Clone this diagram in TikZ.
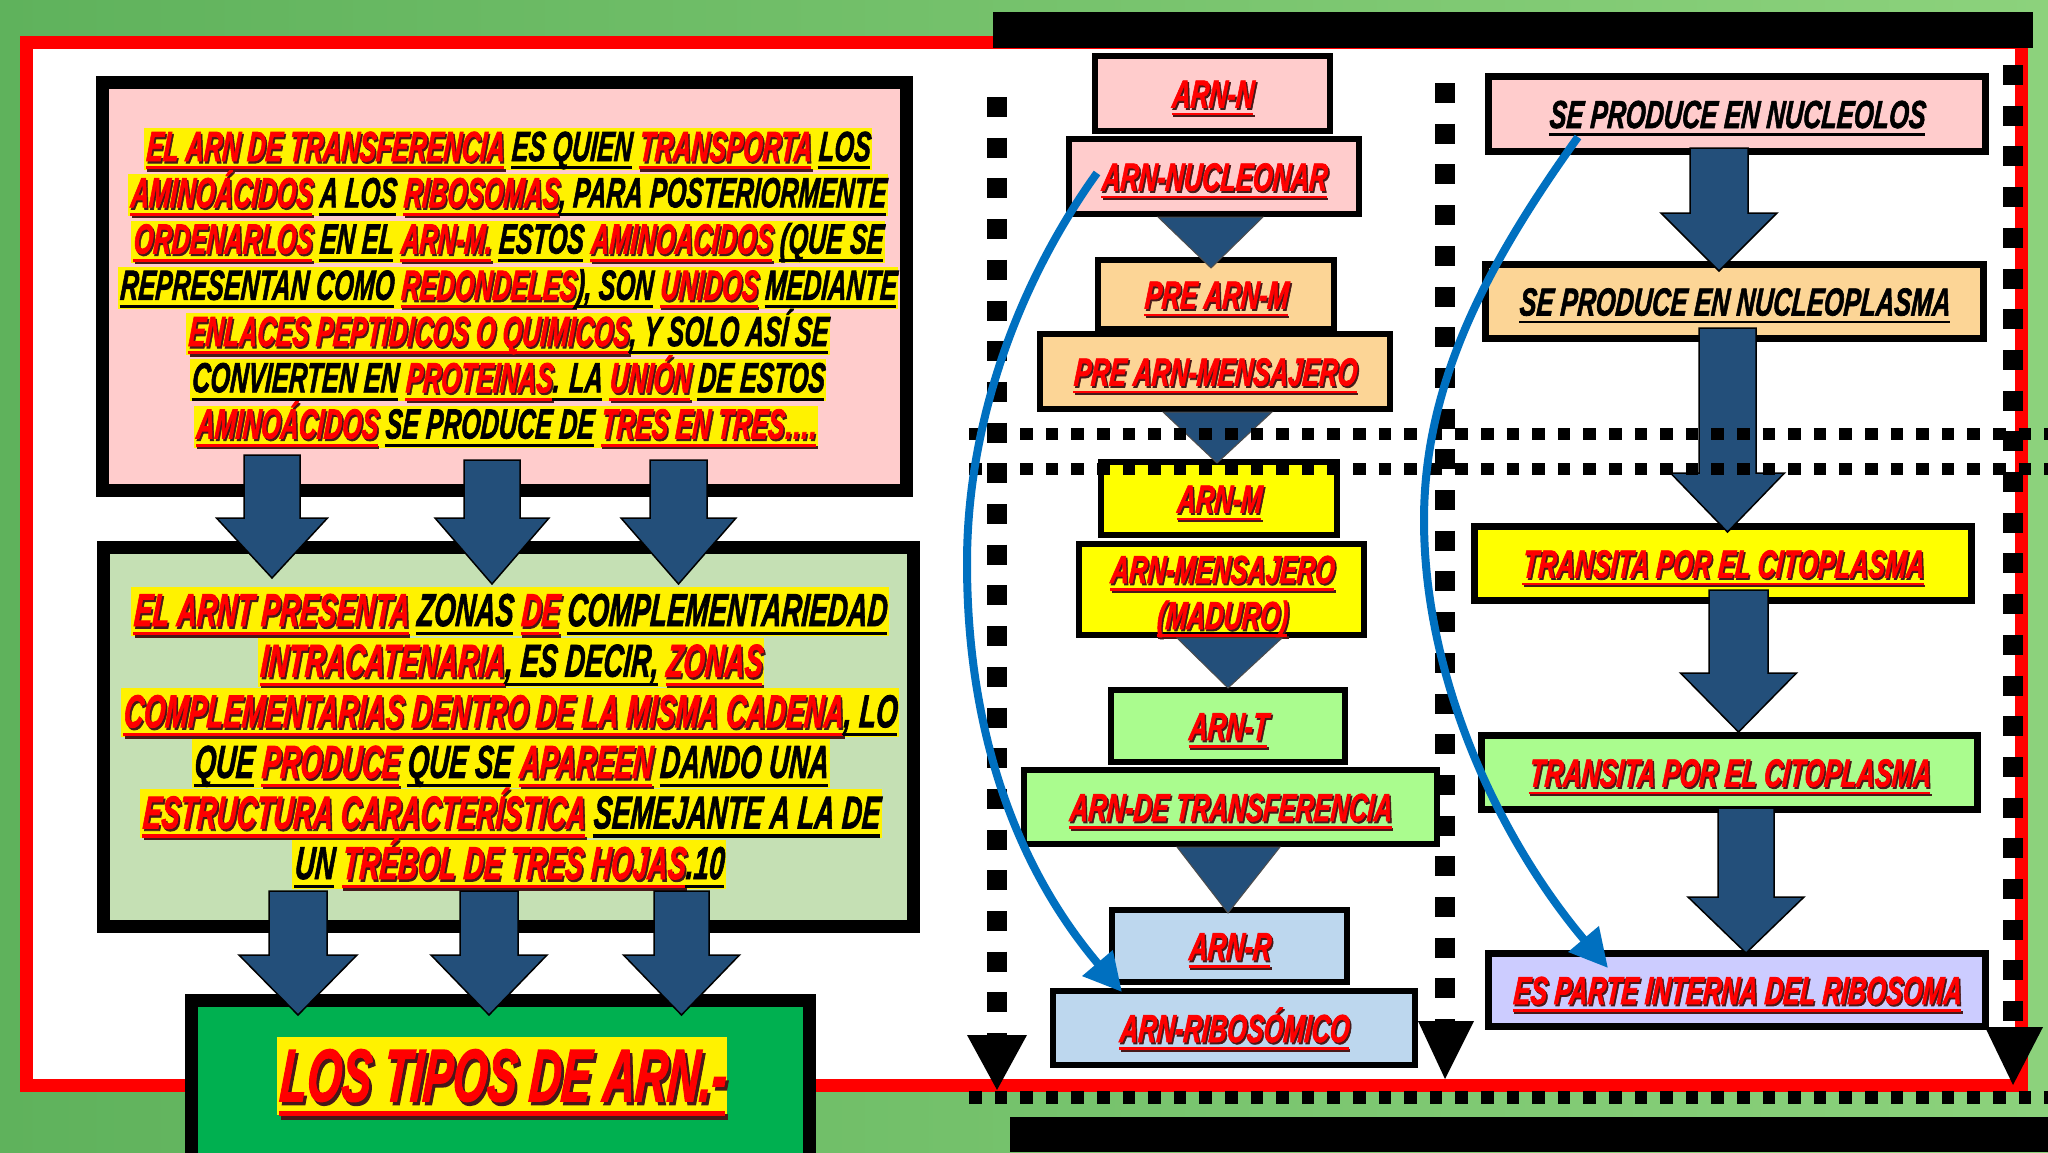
\documentclass[tikz,border=0pt]{standalone}
\usepackage{fontspec}
\usepackage{graphicx}
\usetikzlibrary{arrows.meta}
\newfontfamily\fA{Liberation Sans}[BoldItalicFeatures={FakeSlant=0.12, FakeBold=2}]
\definecolor{bgL}{RGB}{95,178,92}
\definecolor{bgR}{RGB}{140,210,124}
\definecolor{frameR}{RGB}{255,0,0}
\definecolor{pinkF}{RGB}{255,204,204}
\definecolor{greenF}{RGB}{197,224,180}
\definecolor{dkgreenF}{RGB}{0,176,80}
\definecolor{orangeF}{RGB}{252,213,150}
\definecolor{yellowF}{RGB}{255,255,0}
\definecolor{lgreenF}{RGB}{170,252,142}
\definecolor{lblueF}{RGB}{189,215,238}
\definecolor{lavF}{RGB}{204,204,255}
\definecolor{arrowB}{RGB}{35,79,122}
\definecolor{curveB}{RGB}{0,112,192}
\definecolor{shadowC}{RGB}{70,25,25}
\newlength\ulw
\newcommand\ulx[1]{\settowidth\ulw{#1}\rlap{\rule[-0.2em]{\ulw}{0.07em}}#1}
\newcommand\shd[1]{\rlap{\kern0.06em\raisebox{-0.05em}{\color{shadowC}#1}}#1}
\newcommand\RW[1]{{\color{red}\shd{\ulx{#1}}}}
\newcommand\KW[1]{{\color{black}\ulx{#1}}}
\newcommand\cA[1]{\scalebox{0.6}[1]{#1}}
\newcommand\cB[1]{\scalebox{0.65}[1]{#1}}
\newcommand\barrow[6]{%
  \filldraw[barrowst] (#1-#2,#4) -- (#1-#2,#5) -- (#1-#3,#5) -- (#1,#6) -- (#1+#3,#5) -- (#1+#2,#5) -- (#1+#2,#4) -- cycle;}
\tikzset{
  hlA/.style={fill=yellow, inner xsep=2pt, inner ysep=0pt, text height=33pt, text depth=9pt,
    font=\fA\bfseries\itshape\fontsize{42}{46}\selectfont},
  hlB/.style={fill=yellow, inner xsep=2pt, inner ysep=0pt, text height=39pt, text depth=10pt,
    font=\fA\bfseries\itshape\fontsize{46}{50}\selectfont},
  bigbox/.style={draw=black, line width=13pt, inner sep=0pt},
  mbox/.style={draw=black, line width=6pt, inner sep=0pt, text height=28pt, text depth=0pt,
    font=\fA\bfseries\itshape\fontsize{39}{46}\selectfont},
  rbox/.style={draw=black, line width=7pt, inner sep=0pt, text height=28pt, text depth=0pt,
    font=\fA\bfseries\itshape\fontsize{39}{46}\selectfont},
  mtext/.style={inner sep=0pt, text height=28pt, text depth=0pt,
    font=\fA\bfseries\itshape\fontsize{39}{46}\selectfont},
  barrowst/.style={fill=arrowB, draw=black, line width=1.5pt, line join=miter},
  tri/.style={fill=arrowB, draw=black!70, line width=1pt},
  vdots/.style={line width=20pt, dash pattern=on 20pt off 20.7pt},
  hdots/.style={line width=12.5pt, dash pattern=on 12.5pt off 13.1pt},
  curve/.style={curveB, line width=8pt, -{Triangle[length=38pt,width=38pt]}}
}
\begin{document}
\begin{tikzpicture}[x=1pt,y=-1pt]
\useasboundingbox (0,0) rectangle (2048,1152);
\shade[left color=bgL, right color=bgR] (0,0) rectangle (2048,1152);
% frame
\draw[frameR, line width=13pt, fill=white] (26.5,42) rectangle (2021.5,1085.5);
\fill[black] (993,12) rectangle (2033,48);
\fill[black] (1010,1117) rectangle (2048,1152);

% ---------- left column ----------
\node[bigbox, fill=pinkF, minimum width=804pt, minimum height=408pt] (pinkbox) at (504.5,286.5) {};
\node[bigbox, fill=greenF, minimum width=810pt, minimum height=379pt] (greenbox) at (508.5,737) {};

\node[hlA] (p1) at (508,149) {\cA{\RW{EL ARN DE TRANSFERENCIA} \KW{ES QUIEN} \RW{TRANSPORTA} \KW{LOS}}};
\node[hlA] (p2) at (508,195.25) {\cA{\RW{AMINOÁCIDOS} \KW{A LOS} \RW{RIBOSOMAS}\KW{, PARA POSTERIORMENTE}}};
\node[hlA] (p3) at (508,241.5) {\cA{\RW{ORDENARLOS} \KW{EN EL} \RW{ARN-M.} \KW{ESTOS} \RW{AMINOACIDOS} \KW{(QUE SE}}};
\node[hlA] (p4) at (508,287.75) {\cA{\KW{REPRESENTAN COMO} \RW{REDONDELES}\KW{), SON} \RW{UNIDOS} \KW{MEDIANTE}}};
\node[hlA] (p5) at (508,334) {\cA{\RW{ENLACES PEPTIDICOS O QUIMICOS}\KW{, Y SOLO ASÍ SE}}};
\node[hlA] (p6) at (508,380.25) {\cA{\KW{CONVIERTEN EN} \RW{PROTEINAS}\KW{. LA} \RW{UNIÓN} \KW{DE ESTOS}}};
\node[hlA] (p7) at (506,426.5) {\cA{\RW{AMINOÁCIDOS} \KW{SE PRODUCE DE} \RW{TRES EN TRES….}}};

\node[hlB] (g1) at (510,611.5) {\cA{\RW{EL ARNT PRESENTA} \KW{ZONAS} \RW{DE} \KW{COMPLEMENTARIEDAD}}};
\node[hlB] (g2) at (511,662.1) {\cA{\RW{INTRACATENARIA}\KW{, ES DECIR,} \RW{ZONAS}}};
\node[hlB] (g3) at (510,712.7) {\cA{\RW{COMPLEMENTARIAS DENTRO DE LA MISMA CADENA}\KW{, LO}}};
\node[hlB] (g4) at (511,763.3) {\cA{\KW{QUE} \RW{PRODUCE} \KW{QUE SE} \RW{APAREEN} \KW{DANDO UNA}}};
\node[hlB] (g5) at (511,813.9) {\cA{\RW{ESTRUCTURA CARACTERÍSTICA} \KW{SEMEJANTE A LA DE}}};
\node[hlB] (g6) at (509,864.5) {\cA{\KW{UN} \RW{TRÉBOL DE TRES HOJAS}\KW{.10}}};

\barrow{272}{28}{55.5}{455}{518}{578}
\barrow{492}{28}{57}{460}{518}{584}
\barrow{678.5}{28.5}{57.5}{460}{518}{584}

\node[bigbox, fill=dkgreenF, minimum width=618pt, minimum height=180pt] (dkbox) at (500.5,1090.5) {};
\node[fill=yellow, inner xsep=2pt, inner ysep=0pt, text height=64pt, text depth=14pt,
  font=\fA\bfseries\itshape\fontsize{74}{80}\selectfont] (title) at (502,1076) {\cA{\RW{LOS TIPOS DE ARN.-}}};

\barrow{298}{29}{59}{891}{955}{1015}
\barrow{489}{29}{58}{891}{955}{1015}
\barrow{681.5}{27.5}{58}{891}{955}{1015}

% ---------- middle column ----------
\node[mbox, fill=pinkF, minimum width=235pt, minimum height=75pt] (n1) at (1212.5,93.5) {\cB{\RW{ARN-N}}};
\node[mbox, fill=pinkF, minimum width=290pt, minimum height=75pt] (n2) at (1214,176.5) {\cB{\RW{ARN-NUCLEONAR}}};
\node[mbox, fill=orangeF, minimum width=236pt, minimum height=69pt] (n3) at (1216,294.5) {\cB{\RW{PRE ARN-M}}};
\node[mbox, fill=orangeF, minimum width=350pt, minimum height=75pt] (n4) at (1215,371.5) {\cB{\RW{PRE ARN-MENSAJERO}}};
\node[mbox, fill=yellowF, minimum width=236pt, minimum height=73pt] (n5) at (1219,498.5) {\cB{\RW{ARN-M}}};
\node[mbox, fill=yellowF, minimum width=285pt, minimum height=91pt] (n6) at (1221.5,589.5) {};
\node[mtext] (n6a) at (1222,569) {\cB{\RW{ARN-MENSAJERO}}};
\node[mtext] (n6b) at (1222,615) {\cB{\RW{(MADURO)}}};
\node[mbox, fill=lgreenF, minimum width=234pt, minimum height=72pt] (n7) at (1228,726) {\cB{\RW{ARN-T}}};
\node[mbox, fill=lgreenF, minimum width=413pt, minimum height=74pt] (n8) at (1230.5,807) {\cB{\RW{ARN-DE TRANSFERENCIA}}};
\node[mbox, fill=lblueF, minimum width=235pt, minimum height=72pt] (n9) at (1229.5,946) {\cB{\RW{ARN-R}}};
\node[mbox, fill=lblueF, minimum width=362pt, minimum height=74pt] (n10) at (1234,1028) {\cB{\RW{ARN-RIBOSÓMICO}}};

\filldraw[tri] (1158,217) -- (1263,217) -- (1211,268) -- cycle;
\filldraw[tri] (1163,412) -- (1272,412) -- (1217,463) -- cycle;
\filldraw[tri] (1177,638) -- (1282,638) -- (1228,688) -- cycle;
\filldraw[tri] (1177,847) -- (1280,847) -- (1228,913) -- cycle;

% ---------- right column ----------
\node[rbox, fill=pinkF, minimum width=497pt, minimum height=75pt] (r1) at (1737,114) {\cB{\KW{SE PRODUCE EN NUCLEOLOS}}};
\node[rbox, fill=orangeF, minimum width=498pt, minimum height=74pt] (r2) at (1734.5,301.5) {\cB{\KW{SE PRODUCE EN NUCLEOPLASMA}}};
\node[rbox, fill=yellowF, minimum width=497pt, minimum height=74pt] (r3) at (1723,563.5) {\cB{\RW{TRANSITA POR EL CITOPLASMA}}};
\node[rbox, fill=lgreenF, minimum width=496pt, minimum height=74pt] (r4) at (1729.5,772.5) {\cB{\RW{TRANSITA POR EL CITOPLASMA}}};
\node[rbox, fill=lavF, minimum width=497pt, minimum height=73pt] (r5) at (1737,990) {\cB{\RW{ES PARTE INTERNA DEL RIBOSOMA}}};

\barrow{1719}{29}{58}{148}{213}{271}
\barrow{1727.5}{28.5}{57}{328}{473}{532}
\barrow{1738.5}{29.5}{58}{590}{673}{732}
\barrow{1746}{28}{58}{808}{897}{953}

% ---------- dotted guides ----------
\draw[vdots] (997,97) -- (997,1036);
\draw[vdots] (1445,83) -- (1445,1022);
\draw[vdots] (2013,65) -- (2013,1027);
\draw[hdots] (969,434) -- (2048,434);
\draw[hdots] (969,469) -- (2048,469);
\draw[hdots] (969,1097.5) -- (2048,1097.5);
\fill[black] (967,1035) -- (1027,1035) -- (997,1090) -- cycle;
\fill[black] (1418,1021) -- (1474,1021) -- (1445,1079) -- cycle;
\fill[black] (1985,1027) -- (2043,1027) -- (2013,1085) -- cycle;

% ---------- blue curved arrows ----------
\coordinate (cAs) at (1097,173);
\coordinate (cAm) at (967,563);
\coordinate (cAe) at (1122,992);
\draw[curve] (cAs) .. controls (1020,280) and (967,420) .. (cAm) .. controls (967,720) and (1010,860) .. (cAe);
\coordinate (cBs) at (1578,137);
\coordinate (cBm) at (1424,520);
\coordinate (cBe) at (1608,968);
\draw[curve] (cBs) .. controls (1490,260) and (1424,380) .. (cBm) .. controls (1424,680) and (1500,840) .. (cBe);
\end{tikzpicture}
\end{document}
